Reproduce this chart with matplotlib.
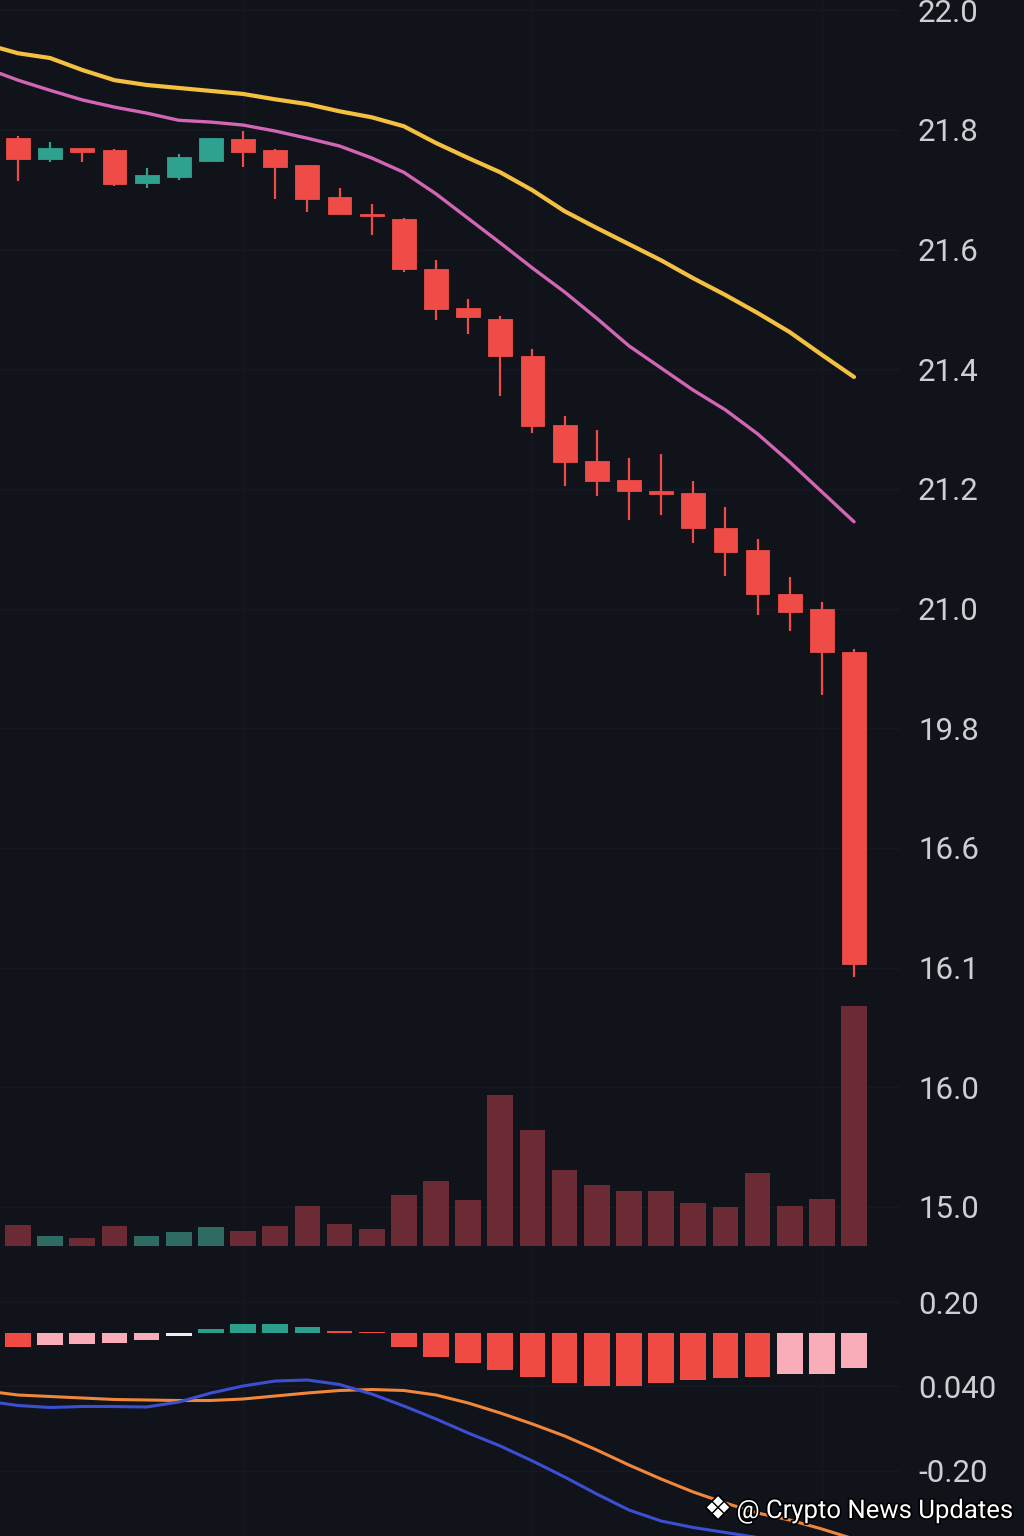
import numpy as np
import matplotlib
matplotlib.use('Agg')
import matplotlib.pyplot as plt
import matplotlib.patheffects as pe
from matplotlib.ticker import FixedLocator, FixedFormatter

# candle data (price units on the chart's linear scale)
opens = [21.787, 21.751, 21.769, 21.766, 21.711, 21.721, 21.748, 21.784, 21.767, 21.741,
         21.688, 21.660, 21.651, 21.568, 21.502, 21.484, 21.422, 21.306, 21.246, 21.215,
         21.196, 21.193, 21.135, 21.098, 21.025, 20.999, 20.928]
highs = [21.789, 21.779, 21.770, 21.768, 21.737, 21.759, 21.787, 21.798, 21.768, 21.742,
         21.702, 21.676, 21.652, 21.582, 21.518, 21.489, 21.433, 21.322, 21.298, 21.252,
         21.259, 21.213, 21.170, 21.116, 21.052, 21.011, 20.932]
lows = [21.714, 21.746, 21.747, 21.706, 21.703, 21.717, 21.747, 21.738, 21.685, 21.663,
        21.659, 21.624, 21.563, 21.482, 21.459, 21.355, 21.293, 21.205, 21.188, 21.148,
        21.156, 21.109, 21.054, 20.989, 20.963, 20.855, 20.384]
closes = [21.752, 21.769, 21.763, 21.710, 21.724, 21.754, 21.786, 21.763, 21.738, 21.685,
          21.660, 21.657, 21.568, 21.500, 21.488, 21.422, 21.305, 21.245, 21.213, 21.196,
          21.191, 21.135, 21.095, 21.024, 20.995, 20.927, 20.406]

# moving averages, starting one bar before the first candle
ma_slow = [21.943, 21.928, 21.920, 21.900, 21.883, 21.875, 21.870, 21.865, 21.860, 21.851,
           21.843, 21.831, 21.821, 21.806, 21.778, 21.753, 21.729, 21.699, 21.664, 21.636,
           21.609, 21.582, 21.552, 21.524, 21.494, 21.462, 21.424, 21.387]
ma_fast = [21.903, 21.883, 21.866, 21.850, 21.838, 21.828, 21.816, 21.813, 21.808, 21.798,
           21.786, 21.773, 21.753, 21.729, 21.693, 21.652, 21.611, 21.569, 21.529, 21.485,
           21.439, 21.402, 21.365, 21.332, 21.292, 21.245, 21.195, 21.145]

volume = [205, 95, 80, 195, 95, 135, 185, 145, 195, 400, 215, 170, 505, 650, 455,
          1510, 1155, 755, 605, 545, 545, 430, 390, 725, 395, 470, 2395]

hist = [-0.027, -0.023, -0.021, -0.020, -0.013, -0.005, 0.008, 0.019, 0.019, 0.013,
        0.005, 0.002, -0.027, -0.047, -0.060, -0.073, -0.088, -0.099, -0.105, -0.105,
        -0.099, -0.093, -0.090, -0.088, -0.081, -0.081, -0.070]
hist_kind = ['red', 'pink', 'pink', 'pink', 'pink', 'white', 'green', 'green', 'green', 'green',
             'red', 'red', 'red', 'red', 'red', 'red', 'red', 'red', 'red', 'red',
             'red', 'red', 'red', 'red', 'pink', 'pink', 'pink']
macd_line = [-0.136, -0.145, -0.149, -0.147, -0.147, -0.148, -0.138, -0.120, -0.106, -0.096,
             -0.094, -0.103, -0.122, -0.146, -0.172, -0.200, -0.226, -0.256, -0.288, -0.322,
             -0.354, -0.376, -0.389, -0.399, -0.409, -0.416, -0.422, -0.426]
signal_line = [-0.116, -0.124, -0.127, -0.130, -0.133, -0.134, -0.135, -0.135, -0.132, -0.126,
               -0.120, -0.115, -0.113, -0.115, -0.124, -0.140, -0.160, -0.182, -0.206, -0.234,
               -0.264, -0.292, -0.318, -0.340, -0.360, -0.374, -0.392, -0.412]

price_ticks = [22.0, 21.8, 21.6, 21.4, 21.2, 21.0, 20.8, 20.6, 20.4, 20.2, 20.0]
price_labels = ['22.0', '21.8', '21.6', '21.4', '21.2', '21.0', '19.8', '16.6', '16.1', '16.0', '15.0']
macd_ticks = [0.062, -0.106, -0.276]
macd_labels = ['0.20', '0.040', '-0.20']

BG = '#11131b'
GRID = '#161922'
UP = '#2fa28f'
DOWN = '#ef4c48'
VOL_UP = '#2d6b63'
VOL_DOWN = '#6a2b34'
HIST_COLORS = {'red': '#f04a45', 'pink': '#f9adb8', 'green': '#2c9f8c', 'white': '#f2eeee'}
LABEL = '#cfcfd3'

W, H = 1024, 1536


def px_rect(left, top, right, bottom):
    return [left / W, 1 - bottom / H, (right - left) / W, (bottom - top) / H]


def style_axis(ax, ticks, labels):
    ax.set_facecolor('none')
    for s in ax.spines.values():
        s.set_visible(False)
    ax.yaxis.tick_right()
    ax.yaxis.set_major_locator(FixedLocator(ticks))
    ax.yaxis.set_major_formatter(FixedFormatter(labels))
    ax.set_xticks([7, 16, 25])
    ax.tick_params(axis='both', length=0, labelbottom=False)
    ax.tick_params(axis='y', pad=13, labelsize=22.5, labelcolor=LABEL)
    ax.grid(True, color=GRID, linewidth=1)
    ax.set_axisbelow(True)


plt.rcParams['font.family'] = ['Roboto', 'DejaVu Sans']
fig = plt.figure(figsize=(W / 100, H / 100), dpi=100, facecolor=BG)

x = np.arange(len(opens))
xm = np.arange(-1, len(opens))
xlim = (-0.56, 27.43)

# price panel
ax = fig.add_axes(px_rect(0, 0, 900, 1262))
ax.set_xlim(*xlim)
ax.set_ylim(19.908, 22.017)
style_axis(ax, price_ticks, price_labels)

o = np.array(opens)
c = np.array(closes)
colors = [UP if cc >= oo else DOWN for oo, cc in zip(o, c)]
ax.vlines(x, lows, highs, colors=colors, linewidth=1.6, zorder=2)
body = np.where(np.abs(c - o) < 0.004, 0.004 * np.sign(c - o + 1e-9), c - o)
ax.bar(x, body, bottom=o, width=0.74, color=colors, edgecolor=colors, linewidth=0.6, zorder=3)

ax.plot(xm, ma_slow, color='#f4c040', linewidth=3.0, solid_capstyle='round',
        solid_joinstyle='round', zorder=4)
ax.plot(xm, ma_fast, color='#d366b4', linewidth=2.4, solid_capstyle='round',
        solid_joinstyle='round', zorder=4)

# volume overlay
axv = fig.add_axes(px_rect(0, 990, 900, 1245.5))
axv.set_xlim(*xlim)
axv.set_ylim(0, 2555)
axv.set_facecolor('none')
axv.axis('off')
vcolors = [VOL_UP if cc >= oo else VOL_DOWN for oo, cc in zip(o, c)]
axv.bar(x, volume, width=0.8, color=vcolors)

# MACD panel
axm = fig.add_axes(px_rect(0, 1262, 900, 1536))
axm.set_xlim(*xlim)
axm.set_ylim(-0.406, 0.142)
style_axis(axm, macd_ticks, macd_labels)
axm.bar(x, hist, width=0.8, color=[HIST_COLORS[k] for k in hist_kind], zorder=3)
axm.plot(xm, signal_line, color='#f0873a', linewidth=2.2, solid_joinstyle='round', zorder=4)
axm.plot(xm, macd_line, color='#3b4fd2', linewidth=2.2, solid_joinstyle='round', zorder=4)

# watermark
stroke = [pe.withStroke(linewidth=2.5, foreground='#000000')]
fig.text(1014 / W, 1 - 1511 / H, '@ Crypto News Updates', ha='right', va='center',
         color='white', fontsize=18.5, path_effects=stroke)
fig.text(718 / W, 1 - 1510 / H, '\u2756', ha='center', va='center', color='white',
         fontsize=22, family=['DejaVu Sans'], path_effects=stroke)

fig.savefig('out.png', dpi=100, facecolor=BG)
